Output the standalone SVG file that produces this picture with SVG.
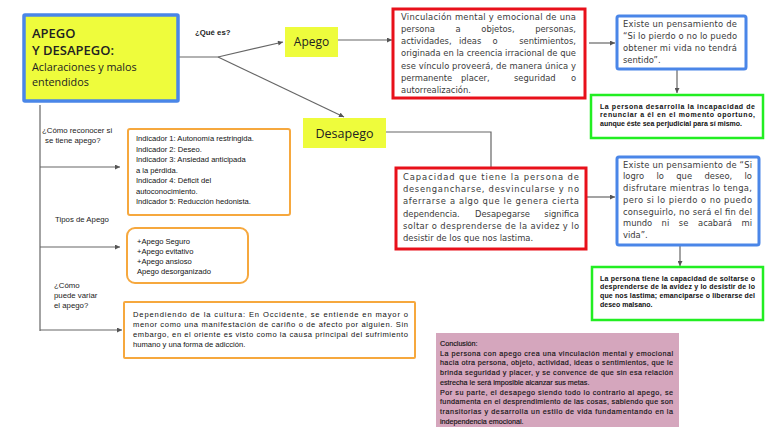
<svg xmlns="http://www.w3.org/2000/svg" width="768" height="433" viewBox="0 0 768 433">
<defs>
<marker id="ah" viewBox="0 0 10 10" refX="10" refY="5" markerWidth="6" markerHeight="5" markerUnits="userSpaceOnUse" orient="auto">
<path d="M0,0 L10,5 L0,10 z" fill="#555"/>
</marker>
<style>
.conn{fill:none;stroke:#666;stroke-width:1.2}
.arr{marker-end:url(#ah)}
.yel{fill:#eefc3c}
.title{font-family:"Open Sans","Lato",sans-serif;fill:#222}
.body{font-family:"DejaVu Sans",sans-serif;font-size:8.4px;fill:#3a3a3a}
.small{font-family:"Liberation Sans",Arial,sans-serif;font-size:7px;font-weight:bold;fill:#111}
.concl{font-family:"Liberation Sans",Arial,sans-serif;font-size:7.2px;fill:#111;stroke:#111;stroke-width:0.15}
.ora{font-family:"Liberation Sans",Arial,sans-serif;font-size:7.6px;fill:#111}
.lbl{font-family:"Liberation Sans",Arial,sans-serif;font-size:7.8px;fill:#222}
.red{fill:#fff;stroke:#e8101a;stroke-width:3}
.blue{fill:#fff;stroke:#4a86e8;stroke-width:3}
.green{fill:#fff;stroke:#22ee22;stroke-width:2.5}
.orange{fill:#fff;stroke:#f6a83e;stroke-width:2}
.e{text-anchor:end}
.m{text-anchor:middle}
</style>
</defs>
<rect width="768" height="433" fill="#fff"/>

<g id="connectors">
<path class="conn" d="M178,57 H218"/>
<path class="conn arr" d="M218,57 L283,42"/>
<path class="conn arr" d="M218,57 L344,117"/>
<path class="conn arr" d="M338,40 H392"/>
<path class="conn" d="M386,132 H491 V168"/>
<path class="conn arr" d="M589,43 H615"/>
<path class="conn arr" d="M677,69 V93"/>
<path class="conn arr" d="M586,197 H615"/>
<path class="conn arr" d="M680,245 V266"/>
<path class="conn" d="M40,105 V331"/>
<path class="conn arr" d="M40,167 H120"/>
<path class="conn arr" d="M40,247 H120"/>
<path class="conn arr" d="M40,330 H122"/>
</g>

<g id="title">
<rect x="24" y="15" width="154" height="86" class="yel" stroke="#4a86e8" stroke-width="3.5" rx="1"/>
<text class="title" x="32" y="38" font-size="13" font-weight="600">APEGO</text>
<text class="title" x="32" y="55" font-size="13" font-weight="600">Y DESAPEGO:</text>
<text class="title" x="32" y="71" font-size="10.8">Aclaraciones y malos</text>
<text class="title" x="32" y="86" font-size="10.8">entendidos</text>
</g>

<g id="que-es">
<text class="lbl" x="195" y="35" font-size="7.5" font-weight="bold">¿Qué es?</text>
</g>

<g id="apego">
<rect x="285" y="27" width="53" height="30" class="yel"/>
<text class="title" x="311.5" y="46" font-size="12" text-anchor="middle">Apego</text>
</g>

<g id="desapego">
<rect x="303" y="118" width="83" height="30" class="yel"/>
<text class="title" x="344.5" y="137.5" font-size="12.5" text-anchor="middle">Desapego</text>
</g>

<g id="def-apego">
<rect x="393" y="9" width="192" height="89" class="red"/>
<text class="body" x="401" y="19.5" textLength="175" lengthAdjust="spacing">Vinculación mental y emocional de una</text>
<text class="body" x="401" y="31.8">persona</text>
<text class="body" x="455.5" y="31.8">a</text>
<text class="body" x="481.3" y="31.8">objetos,</text>
<text class="body e" x="576" y="31.8">personas,</text>
<text class="body" x="401" y="44.1">actividades,</text>
<text class="body" x="459" y="44.1">ideas</text>
<text class="body m" x="495" y="44.1">o</text>
<text class="body e" x="576" y="44.1">sentimientos,</text>
<text class="body" x="401" y="56.4" textLength="175" lengthAdjust="spacing">originada en la creencia irracional de que</text>
<text class="body" x="401" y="68.7" textLength="175" lengthAdjust="spacing">ese vínculo proveerá, de manera única y</text>
<text class="body" x="401" y="81">permanente</text>
<text class="body" x="461" y="81">placer,</text>
<text class="body" x="514" y="81">seguridad</text>
<text class="body e" x="576" y="81">o</text>
<text class="body" x="401" y="93.3">autorrealización.</text>
</g>

<g id="pensamiento-apego">
<rect x="617" y="16" width="129" height="53" class="blue" rx="2"/>
<text class="body" x="623" y="26.5" textLength="114" lengthAdjust="spacing">Existe un pensamiento de</text>
<text class="body" x="623" y="38.5" textLength="114" lengthAdjust="spacing">“Si lo pierdo o no lo puedo</text>
<text class="body" x="623" y="50.5" textLength="114" lengthAdjust="spacing">obtener mi vida no tendrá</text>
<text class="body" x="623" y="62.5">sentido”.</text>
</g>

<g id="incapacidad">
<rect x="591" y="95" width="172" height="43" class="green"/>
<text class="small" x="600" y="108.5" textLength="155" lengthAdjust="spacing">La persona desarrolla la incapacidad de</text>
<text class="small" x="600" y="117.2" textLength="155" lengthAdjust="spacing">renunciar a él en el momento oportuno,</text>
<text class="small" x="600" y="125.9" textLength="142" lengthAdjust="spacing">aunque éste sea perjudicial para sí mismo.</text>
</g>

<g id="def-desapego">
<rect x="396" y="168" width="190" height="81" class="red"/>
<text class="body" x="403" y="180" textLength="176" lengthAdjust="spacing">Capacidad que tiene la persona de</text>
<text class="body" x="403" y="192.2" textLength="176" lengthAdjust="spacing">desengancharse, desvincularse y no</text>
<text class="body" x="403" y="204.4" textLength="176" lengthAdjust="spacing">aferrarse a algo que le genera cierta</text>
<text class="body" x="403" y="216.6">dependencia.</text>
<text class="body" x="475" y="216.6">Desapegarse</text>
<text class="body e" x="579" y="216.6">significa</text>
<text class="body" x="403" y="228.8" textLength="176" lengthAdjust="spacing">soltar o desprenderse de la avidez y lo</text>
<text class="body" x="403" y="241">desistir de los que nos lastima.</text>
</g>

<g id="pensamiento-desapego">
<rect x="617" y="157" width="142" height="88" class="blue" rx="2"/>
<text class="body" x="623" y="167.7" textLength="129" lengthAdjust="spacing">Existe un pensamiento de “Si</text>
<text class="body" x="623" y="179.4">logro</text>
<text class="body" x="656.5" y="179.4">lo</text>
<text class="body" x="676.3" y="179.4">que</text>
<text class="body" x="704.5" y="179.4">deseo,</text>
<text class="body e" x="752" y="179.4">lo</text>
<text class="body" x="623" y="191.1" textLength="129" lengthAdjust="spacing">disfrutare mientras lo tenga,</text>
<text class="body" x="623" y="202.8" textLength="129" lengthAdjust="spacing">pero si lo pierdo o no puedo</text>
<text class="body" x="623" y="214.5" textLength="129" lengthAdjust="spacing">conseguirlo, no será el fin del</text>
<text class="body" x="623" y="226.2">mundo</text>
<text class="body" x="661.6" y="226.2">ni</text>
<text class="body" x="678.8" y="226.2">se</text>
<text class="body" x="698" y="226.2">acabará</text>
<text class="body e" x="752" y="226.2">mi</text>
<text class="body" x="623" y="237.9">vida”.</text>
</g>

<g id="capacidad">
<rect x="592" y="267" width="171" height="53" class="green"/>
<text class="small" x="600" y="280.5" textLength="155" lengthAdjust="spacing">La persona tiene la capacidad de soltarse o</text>
<text class="small" x="600" y="289.2" textLength="155" lengthAdjust="spacing">desprenderse de la avidez y lo desistir de lo</text>
<text class="small" x="600" y="297.9" textLength="155" lengthAdjust="spacing">que nos lastima; emanciparse o liberarse del</text>
<text class="small" x="600" y="306.6">deseo malsano.</text>
</g>

<g id="labels">
<text class="lbl" x="42" y="133">¿Cómo reconocer si</text>
<text class="lbl" x="45" y="143">se tiene apego?</text>
<text class="lbl" x="55" y="222">Tipos de Apego</text>
<text class="lbl" x="54" y="288">¿Cómo</text>
<text class="lbl" x="54" y="298">puede variar</text>
<text class="lbl" x="54" y="308">el apego?</text>
</g>

<g id="indicadores">
<rect x="128" y="129" width="162" height="86" class="orange" rx="2"/>
<text class="ora" x="136" y="141">Indicador 1: Autonomía restringida.</text>
<text class="ora" x="136" y="151.5">Indicador 2: Deseo.</text>
<text class="ora" x="136" y="162">Indicador 3: Ansiedad anticipada</text>
<text class="ora" x="136" y="172.5">a la pérdida.</text>
<text class="ora" x="136" y="183">Indicador 4: Déficit del</text>
<text class="ora" x="136" y="193.5">autoconocimiento.</text>
<text class="ora" x="136" y="204">Indicador 5: Reducción hedonista.</text>
</g>

<g id="tipos">
<rect x="127" y="228" width="121" height="55" class="orange" rx="8"/>
<text class="ora" x="137" y="243.5">+Apego Seguro</text>
<text class="ora" x="137" y="253.8">+Apego evitativo</text>
<text class="ora" x="137" y="264.1">+Apego ansioso</text>
<text class="ora" x="137" y="274.4">Apego desorganizado</text>
</g>

<g id="variar">
<rect x="124" y="302" width="291" height="56" class="orange" rx="1"/>
<text class="ora" x="133" y="316.5" textLength="275" lengthAdjust="spacing">Dependiendo de la cultura: En Occidente, se entiende en mayor o</text>
<text class="ora" x="133" y="326.5" textLength="275" lengthAdjust="spacing">menor como una manifestación de cariño o de afecto por alguien. Sin</text>
<text class="ora" x="133" y="336.5" textLength="275" lengthAdjust="spacing">embargo, en el oriente es visto como la causa principal del sufrimiento</text>
<text class="ora" x="133" y="346.5">humano y una forma de adicción.</text>
</g>

<g id="conclusion">
<rect x="436" y="333" width="243" height="94" fill="#d5a6bd"/>
<text class="concl" x="440" y="346">Conclusión:</text>
<text class="concl" x="440" y="355.7" textLength="233" lengthAdjust="spacing">La persona con apego crea una vinculación mental y emocional</text>
<text class="concl" x="440" y="365.4" textLength="233" lengthAdjust="spacing">hacia otra persona, objeto, actividad, ideas o sentimientos, que le</text>
<text class="concl" x="440" y="375.1" textLength="233" lengthAdjust="spacing">brinda seguridad y placer, y se convence de que sin esa relación</text>
<text class="concl" x="440" y="384.8">estrecha le será imposible alcanzar sus metas.</text>
<text class="concl" x="440" y="394.5" textLength="233" lengthAdjust="spacing">Por su parte, el desapego siendo todo lo contrario al apego, se</text>
<text class="concl" x="440" y="404.2" textLength="233" lengthAdjust="spacing">fundamenta en el desprendimiento de las cosas, sabiendo que son</text>
<text class="concl" x="440" y="413.9" textLength="233" lengthAdjust="spacing">transitorias y desarrolla un estilo de vida fundamentando en la</text>
<text class="concl" x="440" y="423.6">independencia emocional.</text>
</g>
</svg>
